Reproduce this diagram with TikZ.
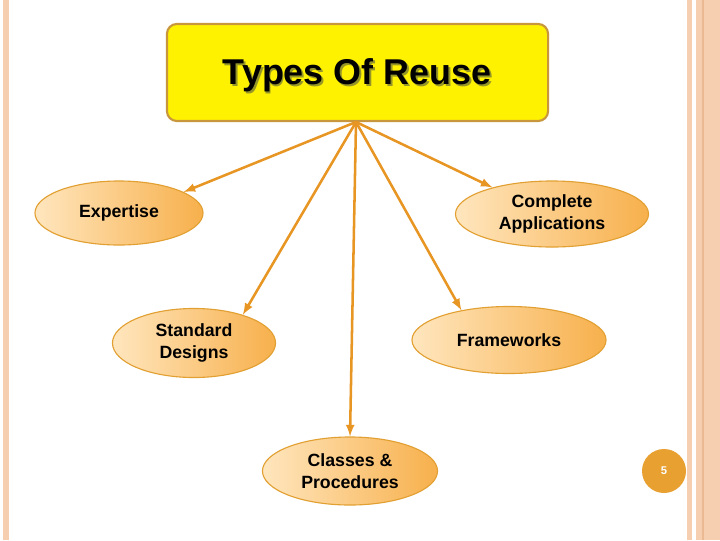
\documentclass[tikz,border=0pt]{standalone}
\usepackage{fontspec}
\setmainfont{Liberation Sans}
\usetikzlibrary{shapes.geometric}

\definecolor{stripe}{RGB}{245,207,176}
\definecolor{stripedark}{RGB}{236,186,146}
\definecolor{boxline}{RGB}{200,150,60}
\definecolor{ovalline}{RGB}{226,160,50}
\definecolor{ovallight}{RGB}{255,230,190}
\definecolor{ovaldark}{RGB}{247,176,76}
\definecolor{arroworange}{RGB}{232,150,35}
\definecolor{shadowolive}{RGB}{150,150,40}
\definecolor{pagedot}{RGB}{232,160,48}

% text with a small drop shadow
\newcommand{\shadowtext}[1]{\rlap{\hspace{1.4pt}\raisebox{-1.4pt}{\color{shadowolive}#1}}#1}

\begin{document}
\begin{tikzpicture}[x=0.025cm, y=-0.025cm,
    topic/.style={ellipse, draw=ovalline, line width=0.8pt, left color=ovallight, right color=ovaldark,
        inner sep=0pt, align=center, font=\fontsize{12.6}{15.5}\selectfont\bfseries},
    link/.style={-latex, draw=arroworange, line width=1.8pt}]
    % page and side stripes
    \fill[white] (0,0) rectangle (720,540);
    \fill[stripe] (3,0) rectangle (9,540);
    \fill[stripe] (687,0) rectangle (692,540);
    \fill[stripe] (696,0) rectangle (720,540);
    \fill[stripedark] (702,0) rectangle (703.5,540);
    \useasboundingbox (0,0) rectangle (720,540);

    \node[draw=boxline, line width=1.5pt, fill=yellow, rounded corners=7pt,
        minimum width=9.525cm, minimum height=2.425cm] (reuse) at (357.5,72.5) {};
    \node[font=\fontsize{25.5}{30}\selectfont\bfseries] (reusetext) at (357,76) {\shadowtext{Types Of Reuse}};

    \node[topic, minimum width=4.2cm, minimum height=1.6cm] (expertise) at (119,213) {Expertise};
    \node[topic, minimum width=4.825cm, minimum height=1.65cm] (complete) at (552,214) {Complete\\Applications};
    \node[topic, minimum width=4.075cm, minimum height=1.725cm] (standard) at (194,343) {Standard\\Designs};
    \node[topic, minimum width=4.85cm, minimum height=1.675cm] (frameworks) at (509,340) {Frameworks};
    \node[topic, minimum width=4.375cm, minimum height=1.7cm] (classes) at (350,471) {Classes \&\\Procedures};

    \coordinate (hub) at (356,122);
    \draw[link] (hub) -- (expertise.18);
    \draw[link] (hub) -- (complete.156);
    \draw[link] (hub) -- (standard.30);
    \draw[link] (hub) -- (frameworks.148);
    \draw[link] (hub) -- (classes.north);

    \node[circle, fill=pagedot, minimum size=1.1cm, inner sep=0pt, text=white,
        font=\fontsize{8}{10}\selectfont\bfseries] (page) at (664,471) {5};
\end{tikzpicture}
\end{document}
